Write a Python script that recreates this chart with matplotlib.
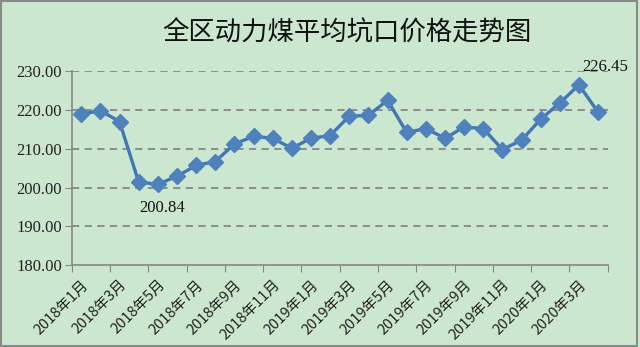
import matplotlib
matplotlib.use("Agg")
import matplotlib.pyplot as plt
from matplotlib.patches import Rectangle

plt.rcParams["font.family"] = ["Noto Sans CJK SC", "DejaVu Sans"]

# ---------- data ----------
months = [
    "2018年1月", "2018年2月", "2018年3月", "2018年4月", "2018年5月", "2018年6月",
    "2018年7月", "2018年8月", "2018年9月", "2018年10月", "2018年11月", "2018年12月",
    "2019年1月", "2019年2月", "2019年3月", "2019年4月", "2019年5月", "2019年6月",
    "2019年7月", "2019年8月", "2019年9月", "2019年10月", "2019年11月", "2019年12月",
    "2020年1月", "2020年2月", "2020年3月", "2020年4月",
]
prices = [
    218.9, 219.8, 217.0, 201.4, 200.84, 202.9, 205.7, 206.7, 211.2, 213.2,
    212.7, 210.1, 212.7, 213.4, 218.4, 218.6, 222.5, 214.2, 215.2, 212.7,
    215.6, 215.2, 209.8, 212.2, 217.6, 221.8, 226.45, 219.4,
]
yticks = [180, 190, 200, 210, 220, 230]
labeled = {4: "200.84", 26: "226.45"}

BG = "#cce7cf"
LINE = "#4276b4"
MARK = "#4f81bd"
GREY = "#868686"
SERIF = ["Liberation Serif", "DejaVu Serif"]

fig = plt.figure(figsize=(6.4, 3.47), dpi=100, facecolor=BG)
fig.patches.append(Rectangle((0.002, 0.003), 0.994, 0.994, transform=fig.transFigure,
                             fill=False, edgecolor="#8a8a8a", linewidth=1.5))
ax = fig.add_axes([0.112, 0.236, 0.8375, 0.559])
ax.set_facecolor(BG)

x = list(range(len(prices)))
ax.plot(x, prices, color=LINE, linewidth=2.4, marker="D", markersize=8,
        markerfacecolor=MARK, markeredgecolor=MARK, zorder=3, clip_on=False)

# data labels on the low and the high point
offsets = {4: (3, -17), 26: (19, 13)}
for i, txt in labeled.items():
    ax.annotate(txt, (x[i], prices[i]), xytext=offsets[i], textcoords="offset points",
                ha="center", va="center", fontsize=12, color="#111111", family=SERIF)

ax.set_xlim(-0.5, len(prices) - 0.5)
ax.set_ylim(180, 230)
ax.set_yticks(yticks)
ax.set_yticklabels([f"{v:.2f}" for v in yticks], fontsize=12, color="#222222",
                   family=SERIF)
for v in yticks[1:]:
    ax.axhline(v, color=GREY, linestyle=(0, (4, 3)), linewidth=1.3, zorder=1)

# tick marks between categories, labels every 2 months
ax.set_xticks([i - 0.5 for i in range(0, len(prices) + 1, 2)])
ax.set_xticklabels([])
ax.set_xticks(x[::2], minor=True)
ax.set_xticklabels(months[::2], minor=True, rotation=45, ha="right",
                   rotation_mode="anchor", fontsize=10.5, color="#222222")
ax.tick_params(axis="x", which="minor", length=0, pad=9)
ax.tick_params(axis="x", which="major", length=5, color=GREY, direction="out")
ax.tick_params(axis="y", length=5, color=GREY, direction="out", pad=2)

for s in ["top", "right"]:
    ax.spines[s].set_visible(False)
for s in ["left", "bottom"]:
    ax.spines[s].set_color(GREY)
    ax.spines[s].set_linewidth(1.2)

fig.text(0.542, 0.905, "全区动力煤平均坑口价格走势图", ha="center", va="center",
         fontsize=19, color="#111111")

fig.savefig("out.png", dpi=100, facecolor=BG)
